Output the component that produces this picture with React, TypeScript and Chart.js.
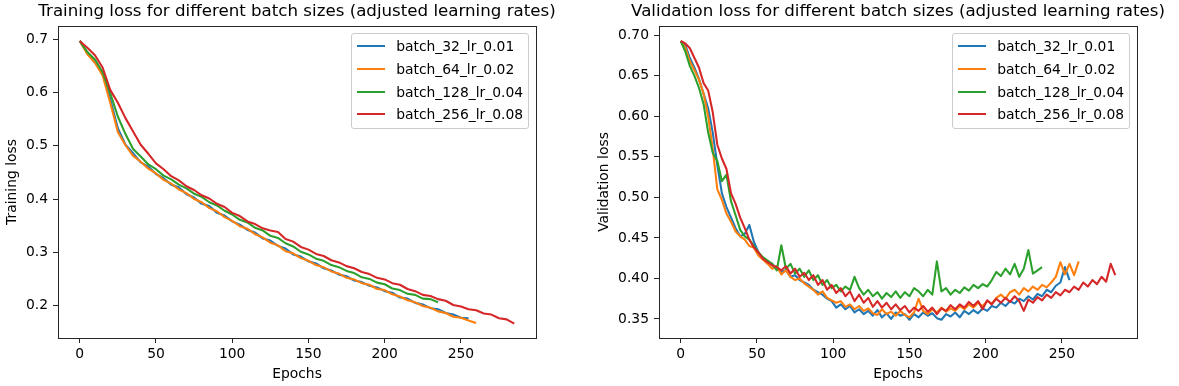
import React, { useEffect, useRef } from 'react';
import { Chart, registerables } from 'chart.js';

Chart.register(...registerables);

const FONT = 'DejaVu Sans';
const TEXT_COLOR = '#000000';
const SPINE_COLOR = '#262626';

// ---- legend / series ----
const seriesNames = ['batch_32_lr_0.01', 'batch_64_lr_0.02', 'batch_128_lr_0.04', 'batch_256_lr_0.08'];
const seriesColors = ['#1f77b4', '#ff7f0e', '#2ca02c', '#d62728'];

// ---- ticks ----
const epochTicks = [0, 50, 100, 150, 200, 250];
const epochTickLabels = ['0', '50', '100', '150', '200', '250'];
const trainLossTicks = [0.2, 0.3, 0.4, 0.5, 0.6, 0.7];
const trainLossTickLabels = ['0.2', '0.3', '0.4', '0.5', '0.6', '0.7'];
const valLossTicks = [0.35, 0.4, 0.45, 0.5, 0.55, 0.6, 0.65, 0.7];
const valLossTickLabels = ['0.35', '0.40', '0.45', '0.50', '0.55', '0.60', '0.65', '0.70'];

// ---- training loss (sampled every 5 epochs) ----
const trainEpochs = [0, 5, 10, 15, 20, 25, 30, 35, 40, 45, 50, 55, 60, 65, 70, 75, 80, 85, 90, 95, 100, 105, 110, 115, 120, 125, 130, 135, 140, 145, 150, 155, 160, 165, 170, 175, 180, 185, 190, 195, 200, 205, 210, 215, 220, 225, 230, 235, 240, 245, 250, 255, 260, 265, 270, 275, 280, 285];
const trainBatch32 = [0.697, 0.675, 0.656, 0.637, 0.588, 0.533, 0.502, 0.486, 0.469, 0.461, 0.447, 0.439, 0.427, 0.422, 0.409, 0.403, 0.391, 0.387, 0.374, 0.369, 0.358, 0.352, 0.342, 0.337, 0.326, 0.322, 0.312, 0.307, 0.296, 0.292, 0.283, 0.279, 0.270, 0.266, 0.258, 0.255, 0.247, 0.244, 0.237, 0.234, 0.227, 0.224, 0.215, 0.213, 0.205, 0.202, 0.195, 0.193, 0.186, 0.183, 0.177, 0.176];
const trainBatch64 = [0.697, 0.672, 0.656, 0.632, 0.581, 0.526, 0.501, 0.481, 0.470, 0.457, 0.448, 0.436, 0.429, 0.418, 0.411, 0.400, 0.394, 0.383, 0.377, 0.366, 0.359, 0.349, 0.344, 0.334, 0.328, 0.318, 0.313, 0.302, 0.298, 0.289, 0.284, 0.276, 0.272, 0.264, 0.260, 0.252, 0.249, 0.242, 0.239, 0.231, 0.229, 0.221, 0.217, 0.210, 0.206, 0.199, 0.196, 0.189, 0.186, 0.179, 0.177, 0.172, 0.167];
const trainBatch128 = [0.697, 0.676, 0.662, 0.638, 0.599, 0.555, 0.522, 0.494, 0.480, 0.465, 0.456, 0.444, 0.437, 0.427, 0.420, 0.410, 0.404, 0.394, 0.388, 0.378, 0.371, 0.361, 0.356, 0.346, 0.341, 0.331, 0.327, 0.317, 0.311, 0.301, 0.296, 0.288, 0.284, 0.276, 0.272, 0.265, 0.261, 0.253, 0.250, 0.243, 0.240, 0.232, 0.229, 0.222, 0.220, 0.213, 0.212, 0.206];
const trainBatch256 = [0.697, 0.684, 0.670, 0.647, 0.605, 0.581, 0.552, 0.527, 0.502, 0.485, 0.467, 0.456, 0.443, 0.435, 0.424, 0.417, 0.407, 0.401, 0.391, 0.385, 0.374, 0.368, 0.358, 0.353, 0.345, 0.341, 0.338, 0.325, 0.320, 0.310, 0.305, 0.297, 0.293, 0.285, 0.281, 0.274, 0.270, 0.263, 0.259, 0.252, 0.249, 0.242, 0.239, 0.231, 0.227, 0.220, 0.218, 0.212, 0.209, 0.201, 0.198, 0.193, 0.191, 0.185, 0.183, 0.176, 0.174, 0.166];

// ---- validation loss (sampled every 3 epochs) ----
const valEpochs = [0, 3, 6, 9, 12, 15, 18, 21, 24, 27, 30, 33, 36, 39, 42, 45, 48, 51, 54, 57, 60, 63, 66, 69, 72, 75, 78, 81, 84, 87, 90, 93, 96, 99, 102, 105, 108, 111, 114, 117, 120, 123, 126, 129, 132, 135, 138, 141, 144, 147, 150, 153, 156, 159, 162, 165, 168, 171, 174, 177, 180, 183, 186, 189, 192, 195, 198, 201, 204, 207, 210, 213, 216, 219, 222, 225, 228, 231, 234, 237, 240, 243, 246, 249, 252, 255, 258, 261, 264, 267, 270, 273, 276, 279, 282, 285];
const valBatch32 = [0.693, 0.688, 0.672, 0.660, 0.646, 0.628, 0.610, 0.580, 0.540, 0.505, 0.488, 0.475, 0.462, 0.452, 0.455, 0.466, 0.445, 0.432, 0.425, 0.420, 0.418, 0.412, 0.408, 0.410, 0.402, 0.404, 0.398, 0.395, 0.392, 0.386, 0.383, 0.380, 0.375, 0.372, 0.364, 0.368, 0.362, 0.366, 0.358, 0.362, 0.356, 0.360, 0.354, 0.361, 0.352, 0.357, 0.350, 0.358, 0.354, 0.356, 0.349, 0.356, 0.352, 0.358, 0.354, 0.357, 0.351, 0.349, 0.356, 0.353, 0.358, 0.352, 0.360, 0.356, 0.361, 0.357, 0.363, 0.360, 0.366, 0.364, 0.370, 0.366, 0.372, 0.369, 0.375, 0.372, 0.378, 0.374, 0.381, 0.378, 0.386, 0.383, 0.391, 0.395, 0.414, 0.398];
const valBatch64 = [0.693, 0.685, 0.668, 0.657, 0.645, 0.628, 0.600, 0.560, 0.510, 0.497, 0.480, 0.470, 0.458, 0.452, 0.448, 0.440, 0.438, 0.428, 0.423, 0.418, 0.412, 0.415, 0.405, 0.410, 0.402, 0.398, 0.400, 0.394, 0.390, 0.386, 0.380, 0.384, 0.376, 0.373, 0.370, 0.372, 0.365, 0.368, 0.362, 0.366, 0.360, 0.363, 0.357, 0.355, 0.362, 0.356, 0.359, 0.354, 0.360, 0.355, 0.352, 0.358, 0.375, 0.360, 0.356, 0.362, 0.358, 0.364, 0.359, 0.363, 0.360, 0.366, 0.362, 0.368, 0.364, 0.370, 0.366, 0.372, 0.369, 0.376, 0.380, 0.375, 0.383, 0.386, 0.380, 0.388, 0.384, 0.390, 0.386, 0.392, 0.389, 0.395, 0.402, 0.420, 0.405, 0.418, 0.404, 0.421];
const valBatch128 = [0.693, 0.680, 0.662, 0.650, 0.635, 0.615, 0.580, 0.555, 0.545, 0.520, 0.528, 0.495, 0.478, 0.460, 0.452, 0.448, 0.440, 0.432, 0.426, 0.422, 0.418, 0.410, 0.441, 0.412, 0.418, 0.406, 0.412, 0.402, 0.410, 0.398, 0.404, 0.392, 0.398, 0.388, 0.392, 0.384, 0.390, 0.386, 0.402, 0.388, 0.380, 0.386, 0.378, 0.383, 0.375, 0.382, 0.377, 0.384, 0.376, 0.383, 0.378, 0.388, 0.384, 0.378, 0.386, 0.380, 0.421, 0.384, 0.388, 0.380, 0.386, 0.382, 0.389, 0.385, 0.392, 0.388, 0.393, 0.390, 0.398, 0.408, 0.403, 0.412, 0.405, 0.418, 0.402, 0.412, 0.435, 0.406, 0.410, 0.414];
const valBatch256 = [0.693, 0.690, 0.684, 0.672, 0.660, 0.641, 0.632, 0.605, 0.565, 0.548, 0.535, 0.505, 0.492, 0.475, 0.462, 0.448, 0.438, 0.432, 0.424, 0.420, 0.416, 0.414, 0.410, 0.415, 0.406, 0.412, 0.402, 0.407, 0.398, 0.404, 0.392, 0.398, 0.386, 0.392, 0.382, 0.388, 0.378, 0.384, 0.372, 0.380, 0.370, 0.376, 0.365, 0.372, 0.364, 0.370, 0.362, 0.368, 0.361, 0.366, 0.358, 0.364, 0.360, 0.366, 0.359, 0.364, 0.356, 0.363, 0.360, 0.367, 0.362, 0.368, 0.364, 0.371, 0.366, 0.372, 0.362, 0.373, 0.368, 0.375, 0.370, 0.376, 0.371, 0.378, 0.372, 0.360, 0.374, 0.370, 0.377, 0.373, 0.380, 0.376, 0.383, 0.379, 0.386, 0.383, 0.390, 0.386, 0.395, 0.390, 0.398, 0.393, 0.402, 0.396, 0.418, 0.404];

const trainSeries = [trainBatch32, trainBatch64, trainBatch128, trainBatch256];
const valSeries = [valBatch32, valBatch64, valBatch128, valBatch256];

// ---- panel ----
type PanelProps = {
  left: number;
  width: number;
  axisMargin: number;
  title: string;
  yLabel: string;
  yTitlePad: number;
  epochs: number[];
  series: number[][];
  yMin: number;
  yMax: number;
  yTicks: number[];
  yTickLabels: string[];
};

const HEIGHT = 386;
const TICK_FONT = { family: FONT, size: 13.89, weight: 'normal' as const };

function LossPanel(p: PanelProps) {
  const canvasRef = useRef<HTMLCanvasElement | null>(null);
  const legendRef = useRef<HTMLDivElement | null>(null);

  useEffect(() => {
    const canvas = canvasRef.current;
    if (!canvas) return;
    const datasets = p.series.map((vals, k) => ({
      label: seriesNames[k],
      data: vals.map((v, i) => ({ x: p.epochs[i], y: v })),
      borderColor: seriesColors[k],
      backgroundColor: seriesColors[k],
      borderWidth: 2.08,
      pointRadius: 0,
      pointHoverRadius: 0,
      tension: 0,
      fill: false,
      borderJoinStyle: 'round' as const,
      order: 3 - k,
    }));

    const gridOpts = {
      display: true,
      drawOnChartArea: false,
      drawTicks: true,
      tickLength: 5,
      color: SPINE_COLOR,
      lineWidth: 1,
    };
    const borderOpts = { display: true, color: SPINE_COLOR, width: 1 };

    const chart = new Chart(canvas, {
      type: 'line',
      data: { datasets },
      options: {
        animation: false,
        responsive: false,
        maintainAspectRatio: false,
        devicePixelRatio: 1,
        events: [],
        layout: { padding: 0 },
        plugins: {
          legend: { display: false },
          tooltip: { enabled: false },
          title: {
            display: true,
            text: p.title,
            color: TEXT_COLOR,
            font: { family: FONT, size: 16.67, weight: 'normal' },
            padding: { top: 2, bottom: 4 },
            fullSize: true,
          },
        },
        scales: {
          x: {
            type: 'linear',
            position: 'bottom',
            min: -14.25,
            max: 299.25,
            bounds: 'data',
            afterBuildTicks: (s: any) => {
              s.ticks = epochTicks.map((v) => ({ value: v }));
            },
            afterFit: (s: any) => {
              s.height = 48;
            },
            grid: gridOpts,
            border: borderOpts,
            ticks: {
              color: TEXT_COLOR,
              font: TICK_FONT,
              padding: 3,
              autoSkip: false,
              maxRotation: 0,
              callback: (_v: any, i: number) => epochTickLabels[i],
            },
            title: {
              display: true,
              text: 'Epochs',
              color: TEXT_COLOR,
              font: TICK_FONT,
              padding: { top: 0, bottom: 3 },
            },
          },
          y: {
            type: 'linear',
            position: 'left',
            min: p.yMin,
            max: p.yMax,
            bounds: 'data',
            afterBuildTicks: (s: any) => {
              s.ticks = p.yTicks.map((v) => ({ value: v }));
            },
            afterFit: (s: any) => {
              s.width = p.axisMargin;
            },
            grid: gridOpts,
            border: borderOpts,
            ticks: {
              color: TEXT_COLOR,
              font: TICK_FONT,
              padding: 5,
              autoSkip: false,
              callback: (_v: any, i: number) => p.yTickLabels[i],
            },
            title: {
              display: true,
              text: p.yLabel,
              color: TEXT_COLOR,
              font: TICK_FONT,
              padding: { top: p.yTitlePad, bottom: 0 },
            },
          },
          x2: {
            type: 'linear',
            axis: 'x',
            position: 'top',
            afterFit: (s: any) => {
              s.height = 0;
            },
            grid: { display: false, drawTicks: false },
            border: borderOpts,
            ticks: { display: false },
          },
          y2: {
            type: 'linear',
            axis: 'y',
            position: 'right',
            afterFit: (s: any) => {
              s.width = p.axisMargin;
            },
            grid: { display: false, drawTicks: false },
            border: borderOpts,
            ticks: { display: false },
          },
        },
      } as any,
    });

    const area = chart.chartArea;
    const lg = legendRef.current;
    if (lg && area) {
      lg.style.right = `${p.width - area.right + 6.94}px`;
      lg.style.top = `${area.top + 6.94}px`;
    }
    return () => chart.destroy();
  }, []);

  return (
    <div style={{ position: 'absolute', left: p.left, top: 0, width: p.width, height: HEIGHT }}>
      <canvas
        ref={canvasRef}
        width={p.width}
        height={HEIGHT}
        style={{ display: 'block', width: p.width, height: HEIGHT }}
      />
      <div
        ref={legendRef}
        style={{
          position: 'absolute',
          top: 33,
          right: 60,
          boxSizing: 'border-box',
          padding: '5px 5px 5px 5px',
          border: '1px solid #cccccc',
          borderRadius: 3,
          background: 'rgba(255,255,255,0.8)',
          fontFamily: FONT,
          fontSize: 13.89,
          lineHeight: '15.9px',
          color: TEXT_COLOR,
          whiteSpace: 'nowrap',
        }}
      >
        {seriesNames.map((name, k) => (
          <div
            key={name}
            style={{ display: 'flex', alignItems: 'center', height: 15.9, marginTop: k ? 6.94 : 0 }}
          >
            <span
              style={{
                display: 'inline-block',
                width: 27.8,
                height: 2.08,
                background: seriesColors[k],
                marginRight: 11.1,
                position: 'relative',
                top: -1,
              }}
            />
            <span>{name}</span>
          </div>
        ))}
      </div>
    </div>
  );
}

export default function App() {
  return (
    <div
      style={{
        position: 'fixed',
        left: 0,
        top: 0,
        width: 1179,
        height: HEIGHT,
        overflow: 'hidden',
        background: '#ffffff',
      }}
    >
      <LossPanel
        left={0}
        width={594}
        axisMargin={58}
        title="Training loss for different batch sizes (adjusted learning rates)"
        yLabel="Training loss"
        yTitlePad={4}
        epochs={trainEpochs}
        series={trainSeries}
        yMin={0.139}
        yMax={0.725}
        yTicks={trainLossTicks}
        yTickLabels={trainLossTickLabels}
      />
      <LossPanel
        left={590}
        width={616}
        axisMargin={69}
        title="Validation loss for different batch sizes (adjusted learning rates)"
        yLabel="Validation loss"
        yTitlePad={6.4}
        epochs={valEpochs}
        series={valSeries}
        yMin={0.3265}
        yMax={0.7115}
        yTicks={valLossTicks}
        yTickLabels={valLossTickLabels}
      />
    </div>
  );
}
